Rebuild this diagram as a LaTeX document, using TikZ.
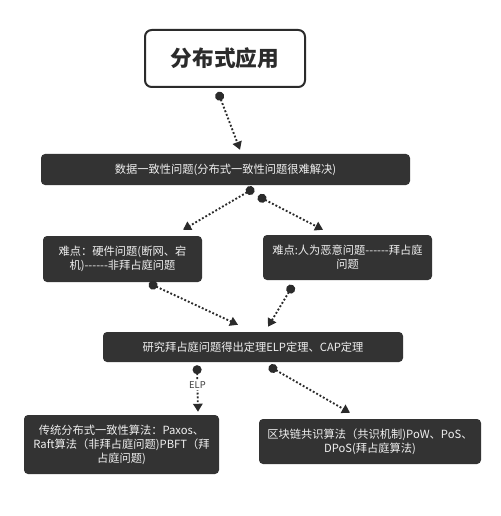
\documentclass[tikz,border=0pt]{standalone}
\usepackage{fontspec}
\setmainfont{Noto Sans CJK SC}[Ligatures=TeXOff]
\usetikzlibrary{arrows.meta}
\definecolor{boxdark}{HTML}{333333}
\definecolor{linedark}{HTML}{2B2B2B}
\begin{document}
\begin{tikzpicture}[
  box/.style={fill=boxdark, rounded corners=0.12cm, text=white!94!black,
    align=center, inner sep=0pt, font=\fontsize{9.6}{12}\selectfont},
  titlebox/.style={draw=linedark, line width=0.06cm, fill=white,
    rounded corners=0.2cm, text=linedark, minimum width=4.8cm,
    minimum height=1.71cm, font=\fontsize{18.5}{20}\selectfont\bfseries},
  link/.style={draw=linedark, line width=1.6pt, dash pattern=on 1.6pt off 1.7pt,
    {Circle[length=0.27cm, width=0.27cm, sep=0pt]}-{Triangle[length=0.24cm, width=0.28cm]}}
]

  % 画布大小
  \useasboundingbox (0,0) rectangle (15,-15.48);

  % 标题
  \node[titlebox] (app) at (6.75,-1.755) {分布式应用};

  % 各层方框
  \node[box, minimum width=11.07cm, minimum height=0.93cm] (data) at (6.765,-5.085)
       {数据一致性问题(分布式一致性问题很难解决)};
  \node[box, minimum width=4.77cm, minimum height=1.38cm] (hard) at (3.675,-7.77)
       {难点：硬件问题(断网、宕\\机)------非拜占庭问题};
  \node[box, minimum width=5.07cm, minimum height=1.35cm] (evil) at (10.425,-7.725)
       {难点:人为恶意问题------拜占庭\\问题};
  \node[box, minimum width=9cm, minimum height=0.9cm] (study) at (7.59,-10.41)
       {研究拜占庭问题得出定理ELP定理、CAP定理};
  \node[box, minimum width=5.85cm, minimum height=1.77cm] (trad) at (3.645,-13.335)
       {传统分布式一致性算法：Paxos、\\Raft算法（非拜占庭问题)PBFT（拜\\占庭问题)};
  \node[box, minimum width=6.66cm, minimum height=1.35cm] (chain) at (11.1,-13.245)
       {区块链共识算法（共识机制)PoW、PoS、\\DPoS(拜占庭算法)};

  % 连线（圆点起、三角箭头止）
  \draw[link] ([shift={(-0.21,-0.12)}]app.south) -- ([shift={(0.435,0.12)}]data.north);
  \draw[link] ([shift={(0.855,-0.09)}]data.south) -- ([shift={(1.815,0.18)}]hard.north);
  \draw[link] ([shift={(0.975,-0.33)}]data.south) -- ([shift={(-0.735,0.15)}]evil.north);
  \draw[link] ([shift={(0.795,-0.03)}]hard.south) -- ([shift={(-0.45,0.21)}]study.north);
  \draw[link] ([shift={(-1.635,-0.15)}]evil.south) -- ([shift={(0.45,0.15)}]study.north);
  \draw[link] ([shift={(-1.68,-0.09)}]study.south) -- ([shift={(2.295,0.09)}]trad.north)
       node[pos=0.42, fill=white, inner sep=1.5pt, text=black!75,
            font=\fontsize{8}{9}\selectfont] (elp) {ELP};
  \draw[link] ([shift={(0.48,-0.12)}]study.south) -- ([shift={(-0.6,0.18)}]chain.north);

\end{tikzpicture}
\end{document}
